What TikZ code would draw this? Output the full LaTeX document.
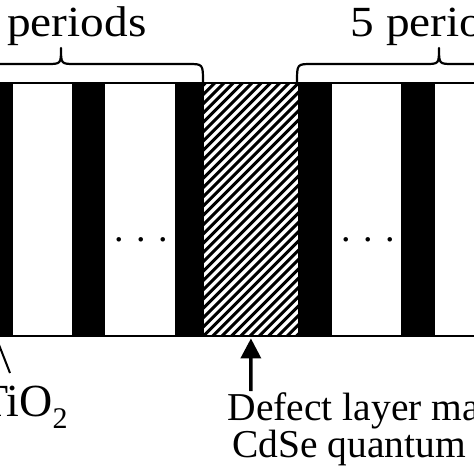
\documentclass[tikz,border=0pt]{standalone}
\usepackage{fontspec}
\usepackage{graphicx}
\setmainfont{Liberation Serif}
\usetikzlibrary{arrows.meta}
\begin{document}
\begin{tikzpicture}[x=1pt,y=-1pt,
  layer/.style={fill=black, draw=none, inner sep=0pt, minimum height=253pt, anchor=north west},
  defectlayer/.style={draw=none, inner sep=0pt, minimum height=253pt, anchor=north west},
  hatchline/.style={line width=3pt},
  rule/.style={line width=2pt},
  bracepath/.style={line width=2.2pt, line join=round},
  toplabel/.style={inner sep=0pt, anchor=base west, font=\fontsize{43}{43}\selectfont},
  dotlabel/.style={inner sep=0pt, anchor=base, font=\fontsize{38}{38}\selectfont},
  deflabel/.style={inner sep=0pt, anchor=base west, font=\fontsize{39.5}{39.5}\selectfont},
  tiolabel/.style={inner sep=0pt, anchor=base west, font=\fontsize{46}{46}\selectfont},
  pointer/.style={line width=2pt},
  uparrow/.style={line width=3.5pt, -{Triangle[length=20pt,width=20pt]}, shorten >=2pt}]
\useasboundingbox (0,0) rectangle (474,474);
\clip (0,0) rectangle (474,474);
% layers
\node[layer, minimum width=35pt] (b1) at (-22,83) {};
\node[layer, minimum width=33pt] (b2) at (72,83) {};
\node[layer, minimum width=29pt] (b3) at (175,83) {};
\node[defectlayer, minimum width=94.5pt] (defect) at (203.5,83) {};
\node[layer, minimum width=34pt] (b4) at (298,83) {};
\node[layer, minimum width=34pt] (b5) at (401,83) {};
\begin{scope}
  \clip (defect.north west) rectangle (defect.south east);
  \foreach \k in {-29,...,12} \draw[hatchline] (203.5+\k*9.3,336) -- ++(253,-253);
\end{scope}
% outline rules
\draw[rule] (-10,83) -- (490,83);
\draw[rule] (-10,336) -- (490,336);
% braces
\draw[bracepath] (-81,82) .. controls (-81,64) .. (-66,64) -- (47,64) .. controls (61,64) .. (61,48)
  .. controls (61,64) .. (75,64) -- (188,64) .. controls (203,64) .. (203,82);
\draw[bracepath] (297,82) .. controls (297,64) .. (312,64) -- (425,64) .. controls (439,64) .. (439,48)
  .. controls (439,64) .. (453,64) -- (566,64) .. controls (581,64) .. (581,82);
% labels
\node[toplabel] (lp) at (-28.5,36) {\scalebox{1.1}[1]{5 periods}};
\node[toplabel] (rp) at (350.5,36) {\scalebox{1.1}[1]{5 periods}};
\node[dotlabel] (ldots) at (141,241) {. . .};
\node[dotlabel] (rdots) at (368,241) {. . .};
\node[tiolabel] (tio) at (-20,416) {TiO\raisebox{-12pt}{\fontsize{30}{30}\selectfont 2}};
\coordinate (tioend) at (10,373);
\draw[pointer] (tioend) -- (b1.south);
\node[deflabel] (def1) at (227.5,420) {Defect layer made of};
\node[deflabel] (def2) at (232,457) {CdSe quantum dots};
\coordinate (arrowfoot) at (250.75,391);
\draw[uparrow] (arrowfoot) -- (defect.south);
\end{tikzpicture}
\end{document}
